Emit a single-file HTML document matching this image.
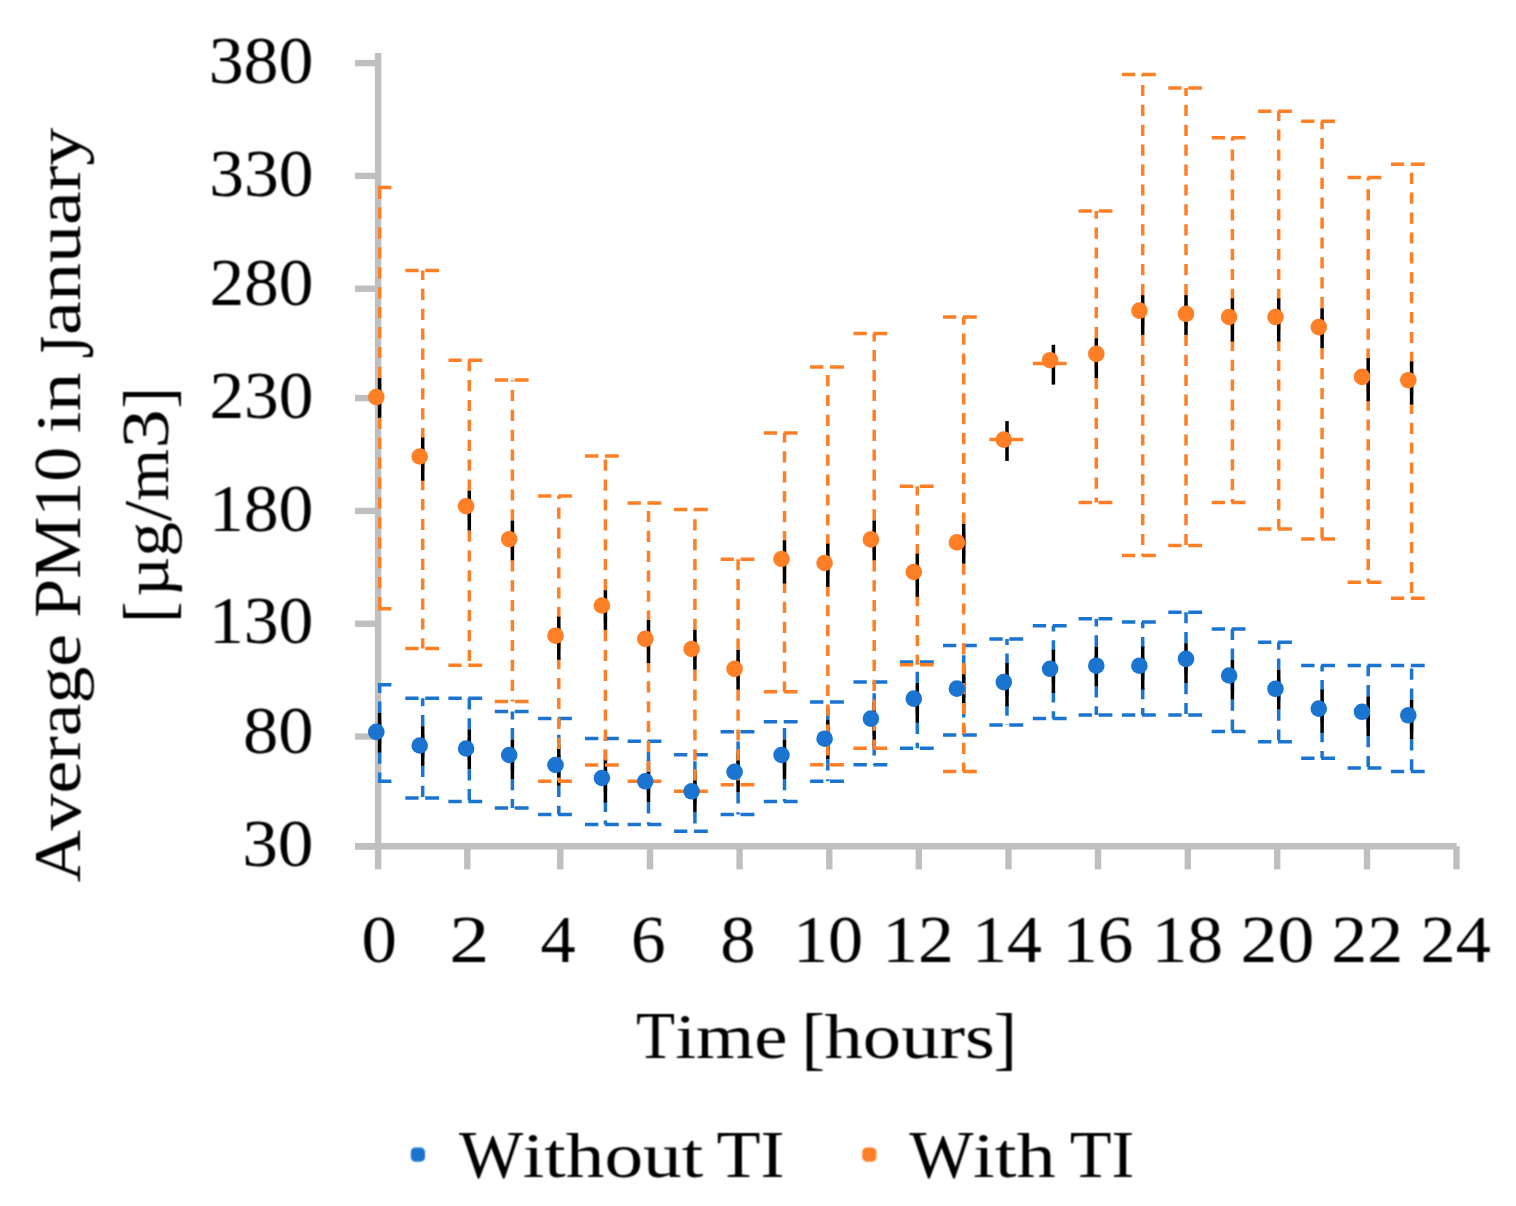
<!DOCTYPE html>
<html lang="en"><head><meta charset="utf-8"><title>Average PM10 in January</title>
<style>html,body{margin:0;padding:0;background:#fff}body{width:1516px;height:1206px;overflow:hidden}svg{display:block}text{font-family:"Liberation Serif", "DejaVu Serif", serif;fill:#000}</style>
</head><body>
<svg width="1516" height="1206" viewBox="0 0 1516 1206" font-size="67.5">
<rect width="1516" height="1206" fill="#fff"/>
<g stroke="#BFBFBF" stroke-width="6.4" fill="none">
<line x1="378.1" y1="53" x2="378.1" y2="849.6"/>
<line x1="355" y1="846.3" x2="1456.6" y2="846.3"/>
<line x1="355" y1="63.1" x2="378" y2="63.1"/>
<line x1="355" y1="175.9" x2="378" y2="175.9"/>
<line x1="355" y1="288.7" x2="378" y2="288.7"/>
<line x1="355" y1="398.1" x2="378" y2="398.1"/>
<line x1="355" y1="510.9" x2="378" y2="510.9"/>
<line x1="355" y1="623.7" x2="378" y2="623.7"/>
<line x1="355" y1="736.5" x2="378" y2="736.5"/>
<line x1="355" y1="846.4" x2="378" y2="846.4"/>
<line x1="378.1" y1="846.3" x2="378.1" y2="869.4"/>
<line x1="467.3" y1="846.3" x2="467.3" y2="869.4"/>
<line x1="560.3" y1="846.3" x2="560.3" y2="869.4"/>
<line x1="650.0" y1="846.3" x2="650.0" y2="869.4"/>
<line x1="739.6" y1="846.3" x2="739.6" y2="869.4"/>
<line x1="829.3" y1="846.3" x2="829.3" y2="869.4"/>
<line x1="918.8" y1="846.3" x2="918.8" y2="869.4"/>
<line x1="1008.5" y1="846.3" x2="1008.5" y2="869.4"/>
<line x1="1098.0" y1="846.3" x2="1098.0" y2="869.4"/>
<line x1="1187.8" y1="846.3" x2="1187.8" y2="869.4"/>
<line x1="1277.2" y1="846.3" x2="1277.2" y2="869.4"/>
<line x1="1367.0" y1="846.3" x2="1367.0" y2="869.4"/>
<line x1="1456.5" y1="846.3" x2="1456.5" y2="869.4"/>
</g>
<defs><clipPath id="plot"><rect x="377.8" y="40" width="1100" height="810"/></clipPath></defs>
<g stroke="#1A74D0" stroke-width="3.5" fill="none" clip-path="url(#plot)">
<path d="M379.6 732.7V684.8M379.6 732.7V781.3" stroke-dasharray="11.2 8.7"/>
<path d="M357.6 684.8H391.4" stroke-dasharray="13.3 6.6 14.4"/>
<path d="M357.6 781.3H391.4" stroke-dasharray="13.3 6.6 14.4"/>
<path d="M422.7 746.0V698.3M422.7 746.0V798.1" stroke-dasharray="11.2 8.7"/>
<path d="M405.3 698.3H439.1" stroke-dasharray="13.3 6.6 14.4"/>
<path d="M405.3 798.1H439.1" stroke-dasharray="13.3 6.6 14.4"/>
<path d="M469.3 749.3V698.3M469.3 749.3V801.4" stroke-dasharray="11.2 8.7"/>
<path d="M448.4 698.3H482.2" stroke-dasharray="13.3 6.6 14.4"/>
<path d="M448.4 801.4H482.2" stroke-dasharray="13.3 6.6 14.4"/>
<path d="M512.4 759.2V711.6M512.4 759.2V808.1" stroke-dasharray="11.2 8.7"/>
<path d="M494.8 711.6H528.6" stroke-dasharray="13.3 6.6 14.4"/>
<path d="M494.8 808.1H528.6" stroke-dasharray="13.3 6.6 14.4"/>
<path d="M558.8 765.9V718.4M558.8 765.9V814.6" stroke-dasharray="11.2 8.7"/>
<path d="M538.1 718.4H571.9" stroke-dasharray="13.3 6.6 14.4"/>
<path d="M538.1 814.6H571.9" stroke-dasharray="13.3 6.6 14.4"/>
<path d="M605.4 780.8V738.4M605.4 780.8V824.4" stroke-dasharray="11.2 8.7"/>
<path d="M585.0 738.4H618.8" stroke-dasharray="13.3 6.6 14.4"/>
<path d="M585.0 824.4H618.8" stroke-dasharray="13.3 6.6 14.4"/>
<path d="M648.5 782.5V741.2M648.5 782.5V824.4" stroke-dasharray="11.2 8.7"/>
<path d="M627.6 741.2H661.4" stroke-dasharray="13.3 6.6 14.4"/>
<path d="M627.6 824.4H661.4" stroke-dasharray="13.3 6.6 14.4"/>
<path d="M694.9 792.4V754.7M694.9 792.4V831.2" stroke-dasharray="11.2 8.7"/>
<path d="M674.0 754.7H707.8" stroke-dasharray="13.3 6.6 14.4"/>
<path d="M674.0 831.2H707.8" stroke-dasharray="13.3 6.6 14.4"/>
<path d="M738.1 772.5V731.7M738.1 772.5V814.6" stroke-dasharray="11.2 8.7"/>
<path d="M720.6 731.7H754.4" stroke-dasharray="13.3 6.6 14.4"/>
<path d="M720.6 814.6H754.4" stroke-dasharray="13.3 6.6 14.4"/>
<path d="M784.5 759.2V721.7M784.5 759.2V801.4" stroke-dasharray="11.2 8.7"/>
<path d="M763.8 721.7H797.6" stroke-dasharray="13.3 6.6 14.4"/>
<path d="M763.8 801.4H797.6" stroke-dasharray="13.3 6.6 14.4"/>
<path d="M827.8 739.4V701.9M827.8 739.4V781.3" stroke-dasharray="11.2 8.7"/>
<path d="M810.1 701.9H843.9" stroke-dasharray="13.3 6.6 14.4"/>
<path d="M810.1 781.3H843.9" stroke-dasharray="13.3 6.6 14.4"/>
<path d="M874.2 724.4V682.1M874.2 724.4V764.8" stroke-dasharray="11.2 8.7"/>
<path d="M853.5 682.1H887.3" stroke-dasharray="13.3 6.6 14.4"/>
<path d="M853.5 764.8H887.3" stroke-dasharray="13.3 6.6 14.4"/>
<path d="M917.3 702.9V662.0M917.3 702.9V748.2" stroke-dasharray="11.2 8.7"/>
<path d="M899.9 662.0H933.7" stroke-dasharray="13.3 6.6 14.4"/>
<path d="M899.9 748.2H933.7" stroke-dasharray="13.3 6.6 14.4"/>
<path d="M963.7 686.3V645.5M963.7 686.3V734.9" stroke-dasharray="11.2 8.7"/>
<path d="M943.0 645.5H976.8" stroke-dasharray="13.3 6.6 14.4"/>
<path d="M943.0 734.9H976.8" stroke-dasharray="13.3 6.6 14.4"/>
<path d="M1007.0 684.7V638.9M1007.0 684.7V724.9" stroke-dasharray="11.2 8.7"/>
<path d="M989.4 638.9H1023.2" stroke-dasharray="13.3 6.6 14.4"/>
<path d="M989.4 724.9H1023.2" stroke-dasharray="13.3 6.6 14.4"/>
<path d="M1053.4 671.4V625.7M1053.4 671.4V718.4" stroke-dasharray="11.2 8.7"/>
<path d="M1032.8 625.7H1066.6" stroke-dasharray="13.3 6.6 14.4"/>
<path d="M1032.8 718.4H1066.6" stroke-dasharray="13.3 6.6 14.4"/>
<path d="M1096.3 666.4V618.8M1096.3 666.4V715.1" stroke-dasharray="11.2 8.7"/>
<path d="M1078.6 618.8H1112.4" stroke-dasharray="13.3 6.6 14.4"/>
<path d="M1078.6 715.1H1112.4" stroke-dasharray="13.3 6.6 14.4"/>
<path d="M1142.7 668.1V622.1M1142.7 668.1V715.1" stroke-dasharray="11.2 8.7"/>
<path d="M1122.0 622.1H1155.8" stroke-dasharray="13.3 6.6 14.4"/>
<path d="M1122.0 715.1H1155.8" stroke-dasharray="13.3 6.6 14.4"/>
<path d="M1186.0 663.1V612.3M1186.0 663.1V715.1" stroke-dasharray="11.2 8.7"/>
<path d="M1168.3 612.3H1202.1" stroke-dasharray="13.3 6.6 14.4"/>
<path d="M1168.3 715.1H1202.1" stroke-dasharray="13.3 6.6 14.4"/>
<path d="M1232.4 679.7V628.9M1232.4 679.7V731.6" stroke-dasharray="11.2 8.7"/>
<path d="M1211.7 628.9H1245.5" stroke-dasharray="13.3 6.6 14.4"/>
<path d="M1211.7 731.6H1245.5" stroke-dasharray="13.3 6.6 14.4"/>
<path d="M1278.7 689.6V642.2M1278.7 689.6V741.7" stroke-dasharray="11.2 8.7"/>
<path d="M1258.1 642.2H1291.9" stroke-dasharray="13.3 6.6 14.4"/>
<path d="M1258.1 741.7H1291.9" stroke-dasharray="13.3 6.6 14.4"/>
<path d="M1322.1 711.2V665.5M1322.1 711.2V758.2" stroke-dasharray="11.2 8.7"/>
<path d="M1301.2 665.5H1335.0" stroke-dasharray="13.3 6.6 14.4"/>
<path d="M1301.2 758.2H1335.0" stroke-dasharray="13.3 6.6 14.4"/>
<path d="M1368.2 716.1V665.5M1368.2 716.1V768.0" stroke-dasharray="11.2 8.7"/>
<path d="M1347.6 665.5H1381.4" stroke-dasharray="13.3 6.6 14.4"/>
<path d="M1347.6 768.0H1381.4" stroke-dasharray="13.3 6.6 14.4"/>
<path d="M1411.6 719.5V665.5M1411.6 719.5V771.5" stroke-dasharray="11.2 8.7"/>
<path d="M1390.9 665.5H1424.7" stroke-dasharray="13.3 6.6 14.4"/>
<path d="M1390.9 771.5H1424.7" stroke-dasharray="13.3 6.6 14.4"/>
</g>
<g stroke="#000" stroke-width="3.5" fill="none">
<path d="M379.6 712.8V752.6"/>
<path d="M422.7 726.1V765.9"/>
<path d="M469.3 729.4V769.2"/>
<path d="M512.4 739.4V779.1"/>
<path d="M558.8 746.0V785.8"/>
<path d="M605.4 759.2V802.4"/>
<path d="M648.5 762.6V802.4"/>
<path d="M694.9 772.5V812.3"/>
<path d="M738.1 752.6V792.4"/>
<path d="M784.5 739.4V779.1"/>
<path d="M827.8 719.5V759.2"/>
<path d="M874.2 702.9V746.0"/>
<path d="M917.3 683.0V722.8"/>
<path d="M963.7 666.4V706.2"/>
<path d="M1007.0 663.1V706.2"/>
<path d="M1053.4 649.8V692.9"/>
<path d="M1096.3 646.5V686.3"/>
<path d="M1142.7 646.5V689.6"/>
<path d="M1186.0 643.2V683.0"/>
<path d="M1232.4 659.8V699.6"/>
<path d="M1278.7 669.7V709.5"/>
<path d="M1322.1 689.6V732.7"/>
<path d="M1368.2 696.3V736.0"/>
<path d="M1411.6 699.6V739.4"/>
</g>
<g stroke="#FE7F26" stroke-width="3.5" fill="none" clip-path="url(#plot)">
<path d="M379.6 397.9V187.6M379.6 397.9V608.8" stroke-dasharray="11.2 8.7"/>
<path d="M357.6 187.6H391.4" stroke-dasharray="13.3 6.6 14.4"/>
<path d="M357.6 608.8H391.4" stroke-dasharray="13.3 6.6 14.4"/>
<path d="M422.7 459.2V270.6M422.7 459.2V648.5" stroke-dasharray="11.2 8.7"/>
<path d="M405.3 270.6H439.1" stroke-dasharray="13.3 6.6 14.4"/>
<path d="M405.3 648.5H439.1" stroke-dasharray="13.3 6.6 14.4"/>
<path d="M469.3 510.6V360.3M469.3 510.6V665.3" stroke-dasharray="11.2 8.7"/>
<path d="M448.4 360.3H482.2" stroke-dasharray="13.3 6.6 14.4"/>
<path d="M448.4 665.3H482.2" stroke-dasharray="13.3 6.6 14.4"/>
<path d="M512.4 540.4V380.0M512.4 540.4V701.6" stroke-dasharray="11.2 8.7"/>
<path d="M494.8 380.0H528.6" stroke-dasharray="13.3 6.6 14.4"/>
<path d="M494.8 701.6H528.6" stroke-dasharray="13.3 6.6 14.4"/>
<path d="M558.8 638.2V496.1M558.8 638.2V781.3" stroke-dasharray="11.2 8.7"/>
<path d="M538.1 496.1H571.9" stroke-dasharray="13.3 6.6 14.4"/>
<path d="M538.1 781.3H571.9" stroke-dasharray="13.3 6.6 14.4"/>
<path d="M605.4 610.1V456.0M605.4 610.1V765.0" stroke-dasharray="11.2 8.7"/>
<path d="M585.0 456.0H618.8" stroke-dasharray="13.3 6.6 14.4"/>
<path d="M585.0 765.0H618.8" stroke-dasharray="13.3 6.6 14.4"/>
<path d="M648.5 641.5V502.9M648.5 641.5V781.3" stroke-dasharray="11.2 8.7"/>
<path d="M627.6 502.9H661.4" stroke-dasharray="13.3 6.6 14.4"/>
<path d="M627.6 781.3H661.4" stroke-dasharray="13.3 6.6 14.4"/>
<path d="M694.9 649.8V509.4M694.9 649.8V791.3" stroke-dasharray="11.2 8.7"/>
<path d="M674.0 509.4H707.8" stroke-dasharray="13.3 6.6 14.4"/>
<path d="M674.0 791.3H707.8" stroke-dasharray="13.3 6.6 14.4"/>
<path d="M738.1 669.7V559.2M738.1 669.7V784.8" stroke-dasharray="11.2 8.7"/>
<path d="M720.6 559.2H754.4" stroke-dasharray="13.3 6.6 14.4"/>
<path d="M720.6 784.8H754.4" stroke-dasharray="13.3 6.6 14.4"/>
<path d="M784.5 562.0V432.9M784.5 562.0V691.8" stroke-dasharray="11.2 8.7"/>
<path d="M763.8 432.9H797.6" stroke-dasharray="13.3 6.6 14.4"/>
<path d="M763.8 691.8H797.6" stroke-dasharray="13.3 6.6 14.4"/>
<path d="M827.8 565.3V367.0M827.8 565.3V764.8" stroke-dasharray="11.2 8.7"/>
<path d="M810.1 367.0H843.9" stroke-dasharray="13.3 6.6 14.4"/>
<path d="M810.1 764.8H843.9" stroke-dasharray="13.3 6.6 14.4"/>
<path d="M874.2 540.4V333.4M874.2 540.4V748.2" stroke-dasharray="11.2 8.7"/>
<path d="M853.5 333.4H887.3" stroke-dasharray="13.3 6.6 14.4"/>
<path d="M853.5 748.2H887.3" stroke-dasharray="13.3 6.6 14.4"/>
<path d="M917.3 575.2V486.3M917.3 575.2V664.8" stroke-dasharray="11.2 8.7"/>
<path d="M899.9 486.3H933.7" stroke-dasharray="13.3 6.6 14.4"/>
<path d="M899.9 664.8H933.7" stroke-dasharray="13.3 6.6 14.4"/>
<path d="M963.7 543.7V317.1M963.7 543.7V771.5" stroke-dasharray="11.2 8.7"/>
<path d="M943.0 317.1H976.8" stroke-dasharray="13.3 6.6 14.4"/>
<path d="M943.0 771.5H976.8" stroke-dasharray="13.3 6.6 14.4"/>
<path d="M989.4 439.6H1023.2" stroke-dasharray="13.3 6.6 14.4"/>
<path d="M1032.8 363.5H1066.6" stroke-dasharray="13.3 6.6 14.4"/>
<path d="M1096.3 358.1V210.9M1096.3 358.1V502.5" stroke-dasharray="11.2 8.7"/>
<path d="M1078.6 210.9H1112.4" stroke-dasharray="13.3 6.6 14.4"/>
<path d="M1078.6 502.5H1112.4" stroke-dasharray="13.3 6.6 14.4"/>
<path d="M1142.7 315.0V74.6M1142.7 315.0V555.6" stroke-dasharray="11.2 8.7"/>
<path d="M1122.0 74.6H1155.8" stroke-dasharray="13.3 6.6 14.4"/>
<path d="M1122.0 555.6H1155.8" stroke-dasharray="13.3 6.6 14.4"/>
<path d="M1186.0 315.0V87.9M1186.0 315.0V545.6" stroke-dasharray="11.2 8.7"/>
<path d="M1168.3 87.9H1202.1" stroke-dasharray="13.3 6.6 14.4"/>
<path d="M1168.3 545.6H1202.1" stroke-dasharray="13.3 6.6 14.4"/>
<path d="M1232.4 319.9V137.7M1232.4 319.9V502.5" stroke-dasharray="11.2 8.7"/>
<path d="M1211.7 137.7H1245.5" stroke-dasharray="13.3 6.6 14.4"/>
<path d="M1211.7 502.5H1245.5" stroke-dasharray="13.3 6.6 14.4"/>
<path d="M1278.7 319.9V111.2M1278.7 319.9V529.1" stroke-dasharray="11.2 8.7"/>
<path d="M1258.1 111.2H1291.9" stroke-dasharray="13.3 6.6 14.4"/>
<path d="M1258.1 529.1H1291.9" stroke-dasharray="13.3 6.6 14.4"/>
<path d="M1322.1 328.2V121.2M1322.1 328.2V539.1" stroke-dasharray="11.2 8.7"/>
<path d="M1301.2 121.2H1335.0" stroke-dasharray="13.3 6.6 14.4"/>
<path d="M1301.2 539.1H1335.0" stroke-dasharray="13.3 6.6 14.4"/>
<path d="M1368.2 379.6V177.6M1368.2 379.6V582.3" stroke-dasharray="11.2 8.7"/>
<path d="M1347.6 177.6H1381.4" stroke-dasharray="13.3 6.6 14.4"/>
<path d="M1347.6 582.3H1381.4" stroke-dasharray="13.3 6.6 14.4"/>
<path d="M1411.6 382.9V164.3M1411.6 382.9V598.2" stroke-dasharray="11.2 8.7"/>
<path d="M1390.9 164.3H1424.7" stroke-dasharray="13.3 6.6 14.4"/>
<path d="M1390.9 598.2H1424.7" stroke-dasharray="13.3 6.6 14.4"/>
</g>
<g stroke="#000" stroke-width="3.5" fill="none">
<path d="M379.6 378.0V417.8"/>
<path d="M422.7 437.6V480.7"/>
<path d="M469.3 490.7V530.5"/>
<path d="M512.4 520.5V560.3"/>
<path d="M558.8 616.7V659.8"/>
<path d="M605.4 590.2V629.9"/>
<path d="M648.5 620.0V663.1"/>
<path d="M694.9 629.9V669.7"/>
<path d="M738.1 649.8V689.6"/>
<path d="M784.5 540.4V583.5"/>
<path d="M827.8 543.7V586.8"/>
<path d="M874.2 520.5V560.3"/>
<path d="M917.3 553.7V596.8"/>
<path d="M963.7 523.8V563.6"/>
<path d="M1007.0 421.1V460.9"/>
<path d="M1053.4 344.8V384.6"/>
<path d="M1096.3 338.2V378.0"/>
<path d="M1142.7 295.1V334.9"/>
<path d="M1186.0 295.1V334.9"/>
<path d="M1232.4 298.4V341.5"/>
<path d="M1278.7 298.4V341.5"/>
<path d="M1322.1 308.3V348.1"/>
<path d="M1368.2 358.1V401.2"/>
<path d="M1411.6 361.4V404.5"/>
</g>
<g fill="#1A74D0">
<circle cx="376.3" cy="731.9" r="8.3"/>
<circle cx="419.7" cy="745.5" r="8.3"/>
<circle cx="466.1" cy="748.5" r="8.3"/>
<circle cx="509.2" cy="755.0" r="8.3"/>
<circle cx="555.5" cy="765.0" r="8.3"/>
<circle cx="601.9" cy="778.0" r="8.3"/>
<circle cx="645.3" cy="781.3" r="8.3"/>
<circle cx="691.6" cy="791.3" r="8.3"/>
<circle cx="734.6" cy="771.8" r="8.3"/>
<circle cx="781.5" cy="755.0" r="8.3"/>
<circle cx="824.6" cy="738.7" r="8.3"/>
<circle cx="870.9" cy="718.6" r="8.3"/>
<circle cx="913.8" cy="698.6" r="8.3"/>
<circle cx="956.9" cy="688.6" r="8.3"/>
<circle cx="1003.8" cy="682.1" r="8.3"/>
<circle cx="1050.1" cy="668.8" r="8.3"/>
<circle cx="1096.3" cy="665.7" r="8.3"/>
<circle cx="1139.4" cy="665.7" r="8.3"/>
<circle cx="1186.0" cy="658.9" r="8.3"/>
<circle cx="1229.1" cy="675.5" r="8.3"/>
<circle cx="1275.5" cy="688.8" r="8.3"/>
<circle cx="1318.8" cy="708.6" r="8.3"/>
<circle cx="1362.0" cy="711.8" r="8.3"/>
<circle cx="1408.3" cy="715.3" r="8.3"/>
</g>
<g fill="#FE7F26">
<circle cx="376.3" cy="397.1" r="8.3"/>
<circle cx="419.7" cy="456.5" r="8.3"/>
<circle cx="466.1" cy="506.2" r="8.3"/>
<circle cx="509.2" cy="539.2" r="8.3"/>
<circle cx="555.5" cy="635.7" r="8.3"/>
<circle cx="601.9" cy="605.5" r="8.3"/>
<circle cx="645.3" cy="638.9" r="8.3"/>
<circle cx="691.6" cy="649.0" r="8.3"/>
<circle cx="734.6" cy="668.8" r="8.3"/>
<circle cx="781.5" cy="559.0" r="8.3"/>
<circle cx="824.6" cy="563.0" r="8.3"/>
<circle cx="870.9" cy="539.4" r="8.3"/>
<circle cx="913.8" cy="572.0" r="8.3"/>
<circle cx="956.9" cy="542.4" r="8.3"/>
<circle cx="1003.8" cy="439.6" r="8.3"/>
<circle cx="1050.1" cy="360.2" r="8.3"/>
<circle cx="1096.3" cy="353.9" r="8.3"/>
<circle cx="1139.4" cy="310.6" r="8.3"/>
<circle cx="1186.0" cy="313.8" r="8.3"/>
<circle cx="1229.1" cy="317.0" r="8.3"/>
<circle cx="1275.5" cy="317.0" r="8.3"/>
<circle cx="1318.8" cy="327.1" r="8.3"/>
<circle cx="1362.0" cy="376.9" r="8.3"/>
<circle cx="1408.3" cy="380.2" r="8.3"/>
</g>
<defs><filter id="soft" x="0" y="0" width="1516" height="1206" filterUnits="userSpaceOnUse" color-interpolation-filters="sRGB"><feConvolveMatrix order="3" kernelMatrix="1 2 1 2 4 2 1 2 1" edgeMode="duplicate" preserveAlpha="false"/></filter></defs>
<g filter="url(#soft)">
<g class="num">
<text><tspan x="208.7" y="82.7" textLength="104.7" lengthAdjust="spacingAndGlyphs">380</tspan></text>
<text><tspan x="209.2" y="196.0" textLength="104.2" lengthAdjust="spacingAndGlyphs">330</tspan></text>
<text><tspan x="209.4" y="305.0" textLength="104.0" lengthAdjust="spacingAndGlyphs">280</tspan></text>
<text><tspan x="209.4" y="417.6" textLength="104.0" lengthAdjust="spacingAndGlyphs">230</tspan></text>
<text><tspan x="208.9" y="531.1" textLength="104.5" lengthAdjust="spacingAndGlyphs">180</tspan></text>
<text><tspan x="208.9" y="643.2" textLength="104.5" lengthAdjust="spacingAndGlyphs">130</tspan></text>
<text><tspan x="243.0" y="753.1" textLength="70.5" lengthAdjust="spacingAndGlyphs">80</tspan></text>
<text><tspan x="242.2" y="865.9" textLength="71.3" lengthAdjust="spacingAndGlyphs">30</tspan></text>
<text><tspan x="361.6" y="961.7" textLength="35.4" lengthAdjust="spacingAndGlyphs">0</tspan></text>
<text><tspan x="449.2" y="961.7" textLength="40.1" lengthAdjust="spacingAndGlyphs">2</tspan></text>
<text><tspan x="540.4" y="961.7" textLength="35.1" lengthAdjust="spacingAndGlyphs">4</tspan></text>
<text><tspan x="630.9" y="961.7" textLength="34.6" lengthAdjust="spacingAndGlyphs">6</tspan></text>
<text><tspan x="720.3" y="961.7" textLength="35.4" lengthAdjust="spacingAndGlyphs">8</tspan></text>
<text><tspan x="792.9" y="961.7" textLength="70.2" lengthAdjust="spacingAndGlyphs">10</tspan></text>
<text><tspan x="882.2" y="961.7" textLength="71.7" lengthAdjust="spacingAndGlyphs">12</tspan></text>
<text><tspan x="972.1" y="961.7" textLength="69.9" lengthAdjust="spacingAndGlyphs">14</tspan></text>
<text><tspan x="1062.2" y="961.7" textLength="71.2" lengthAdjust="spacingAndGlyphs">16</tspan></text>
<text><tspan x="1151.4" y="961.7" textLength="71.7" lengthAdjust="spacingAndGlyphs">18</tspan></text>
<text><tspan x="1240.6" y="961.7" textLength="73.7" lengthAdjust="spacingAndGlyphs">20</tspan></text>
<text><tspan x="1331.3" y="961.7" textLength="71.9" lengthAdjust="spacingAndGlyphs">22</tspan></text>
<text><tspan x="1420.5" y="961.7" textLength="70.3" lengthAdjust="spacingAndGlyphs">24</tspan></text>
</g>
<text><tspan x="636.1" y="1058.2" textLength="39.0" lengthAdjust="spacingAndGlyphs">T</tspan><tspan x="675.2" y="1058.2" textLength="112.3" lengthAdjust="spacingAndGlyphs" font-size="63.5">ime</tspan> <tspan x="801.5" y="1061.7" textLength="23.6" lengthAdjust="spacingAndGlyphs" font-size="70.8">[</tspan><tspan x="824.5" y="1058.2" textLength="170.3" lengthAdjust="spacingAndGlyphs" font-size="63.5">hours</tspan><tspan x="993.5" y="1061.7" textLength="23.4" lengthAdjust="spacingAndGlyphs" font-size="70.8">]</tspan></text>
<text transform="rotate(-90)"><tspan x="-882.2" y="80.2" textLength="52.2" lengthAdjust="spacingAndGlyphs">A</tspan><tspan x="-830.5" y="80.2" textLength="196.6" lengthAdjust="spacingAndGlyphs" font-size="63.5">verage</tspan> <tspan x="-617.7" y="80.2" textLength="170.8" lengthAdjust="spacingAndGlyphs">PM10</tspan> <tspan x="-433.2" y="80.2" textLength="60.7" lengthAdjust="spacingAndGlyphs" font-size="63.5">in</tspan> <tspan x="-358.2" y="91.6" textLength="22.3" lengthAdjust="spacingAndGlyphs" font-size="78.0">J</tspan><tspan x="-334.9" y="80.2" textLength="207.3" lengthAdjust="spacingAndGlyphs" font-size="63.5">anuary</tspan></text>
<text transform="rotate(-90)"><tspan x="-622.8" y="172.3" textLength="21.3" lengthAdjust="spacingAndGlyphs" font-size="70.8">[</tspan><tspan x="-596.7" y="168.0" textLength="74.8" lengthAdjust="spacingAndGlyphs" font-size="63.5">µg</tspan><tspan x="-521.2" y="170.0" textLength="20.5" lengthAdjust="spacingAndGlyphs">/</tspan><tspan x="-500.9" y="168.0" textLength="52.0" lengthAdjust="spacingAndGlyphs" font-size="63.5">m</tspan><tspan x="-448.4" y="168.0" textLength="39.3" lengthAdjust="spacingAndGlyphs">3</tspan><tspan x="-408.5" y="172.3" textLength="21.2" lengthAdjust="spacingAndGlyphs" font-size="70.8">]</tspan></text>
<rect x="410.8" y="1147.5" width="14.2" height="14.2" rx="4.6" fill="#1A74D0"/>
<text><tspan x="459.0" y="1177.4" textLength="64.2" lengthAdjust="spacingAndGlyphs">W</tspan><tspan x="522.8" y="1177.4" textLength="180.5" lengthAdjust="spacingAndGlyphs" font-size="63.5">ithout</tspan> <tspan x="716.5" y="1177.4" textLength="68.1" lengthAdjust="spacingAndGlyphs">TI</tspan></text>
<rect x="862.2" y="1147.5" width="14.2" height="14.2" rx="4.6" fill="#FE7F26"/>
<text><tspan x="909.3" y="1177.4" textLength="64.2" lengthAdjust="spacingAndGlyphs">W</tspan><tspan x="973.0" y="1177.4" textLength="82.6" lengthAdjust="spacingAndGlyphs" font-size="63.5">ith</tspan> <tspan x="1069.8" y="1177.4" textLength="64.5" lengthAdjust="spacingAndGlyphs">TI</tspan></text>
</g>
</svg>
</body></html>
